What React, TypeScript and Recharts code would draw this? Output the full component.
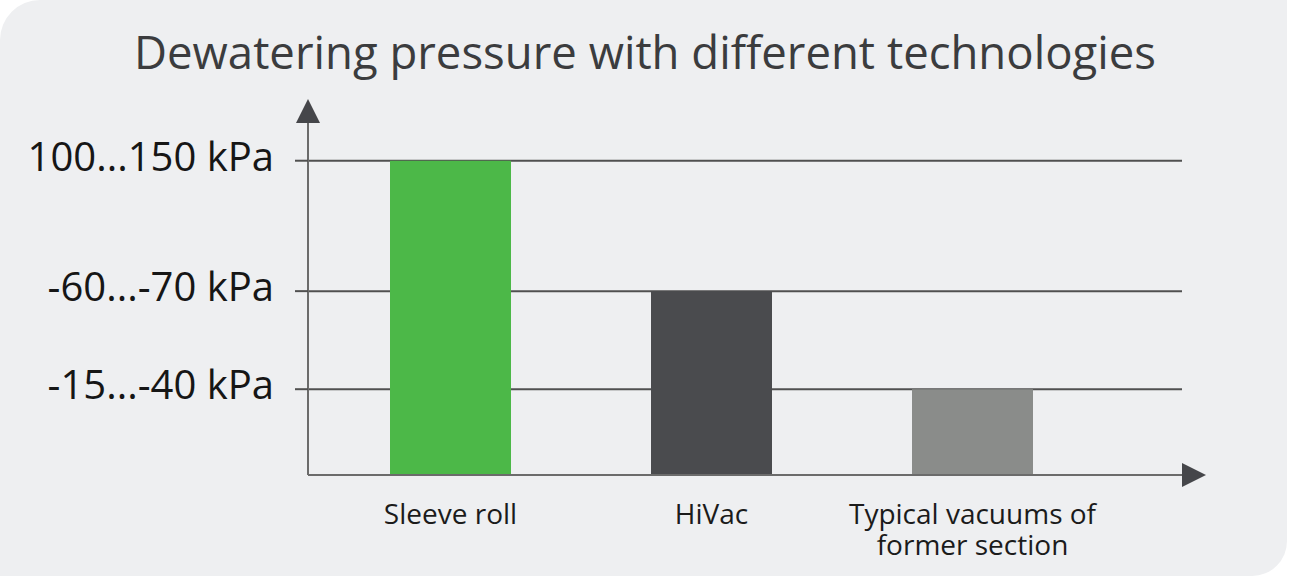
import React from "react";
import { BarChart, Bar, XAxis, YAxis, CartesianGrid, Cell } from "recharts";

const categories = ["Sleeve roll", "HiVac", "Typical vacuums of\nformer section"];
const pressureValues = [100, 58.5, 27.3];
const barColors = ["#4cb848", "#4a4b4e", "#8a8c8a"];
const yTickValues = [27.3, 58.5, 100];
const yTickLabels = ["-15...-40 kPa", "-60...-70 kPa", "100...150 kPa"];
const title = "Dewatering pressure with different technologies";

const data = categories.map((c, i) => ({ name: c, value: pressureValues[i] }));

const FONT = "'Open Sans', 'Noto Sans', sans-serif";

const XTick = (props: any) => {
  const { x, y, payload } = props;
  const lines = String(payload.value).split("\n");
  return (
    <text x={x} y={y} textAnchor="middle" fontFamily={FONT} fontSize={28} fill="#1b1b1b">
      {lines.map((l, i) => (
        <tspan key={i} x={x} dy={i === 0 ? 41 : 31}>
          {l}
        </tspan>
      ))}
    </text>
  );
};

const YTick = (props: any) => {
  const { x, y, payload } = props;
  const idx = yTickValues.indexOf(payload.value);
  return (
    <text x={x} y={y} dy={10} textAnchor="end" fontFamily={FONT} fontSize={40} fill="#161616">
      {idx >= 0 ? yTickLabels[idx] : ""}
    </text>
  );
};

export default function App() {
  return (
    <div style={{ position: "absolute", left: 0, top: 0, width: 1290, height: 576, background: "#ffffff", overflow: "hidden" }}>
      <div
        style={{
          position: "absolute",
          left: 0,
          top: 0,
          width: 1287,
          height: 576,
          background: "#eeeff1",
          borderRadius: "40px 0 35px 0",
        }}
      />
      <svg style={{ position: "absolute", left: 0, top: 0 }} width={1290} height={576}>
        <text x={645} y={69} textAnchor="middle" fontFamily={FONT} fontSize={45.5} fill="#3b3c3e">
          {title}
        </text>
      </svg>
      <div style={{ position: "absolute", left: 0, top: 0 }}>
        <BarChart width={1290} height={576} data={data} margin={{ top: 123, right: 108, bottom: 0, left: 0 }}>
          <defs>
            <marker
              id="arrowHead"
              markerUnits="userSpaceOnUse"
              markerWidth={24}
              markerHeight={24}
              viewBox="0 0 24 24"
              refX={0}
              refY={12}
              orient="auto-start-reverse"
            >
              <path d="M0,0 L24,12 L0,24 z" fill="#45464a" />
            </marker>
          </defs>
          <CartesianGrid
            vertical={false}
            horizontalValues={yTickValues}
            stroke="#505050"
            strokeWidth={2}
          />
          <XAxis
            dataKey="name"
            height={101}
            padding={{ left: 12, right: 79 }}
            tickLine={false}
            axisLine={{ stroke: "#6b6b6b", strokeWidth: 2, markerEnd: "url(#arrowHead)" } as any}
            tick={<XTick />}
            interval={0}
          />
          <YAxis
            width={308}
            domain={[0, 112]}
            ticks={yTickValues}
            tickSize={13}
            tickMargin={21}
            tickLine={{ stroke: "#505050", strokeWidth: 2 }}
            axisLine={{ stroke: "#6b6b6b", strokeWidth: 2, markerStart: "url(#arrowHead)" } as any}
            tick={<YTick />}
            interval={0}
          />
          <Bar dataKey="value" barSize={121} isAnimationActive={false}>
            {data.map((d, i) => (
              <Cell key={i} fill={barColors[i]} />
            ))}
          </Bar>
        </BarChart>
      </div>
    </div>
  );
}
